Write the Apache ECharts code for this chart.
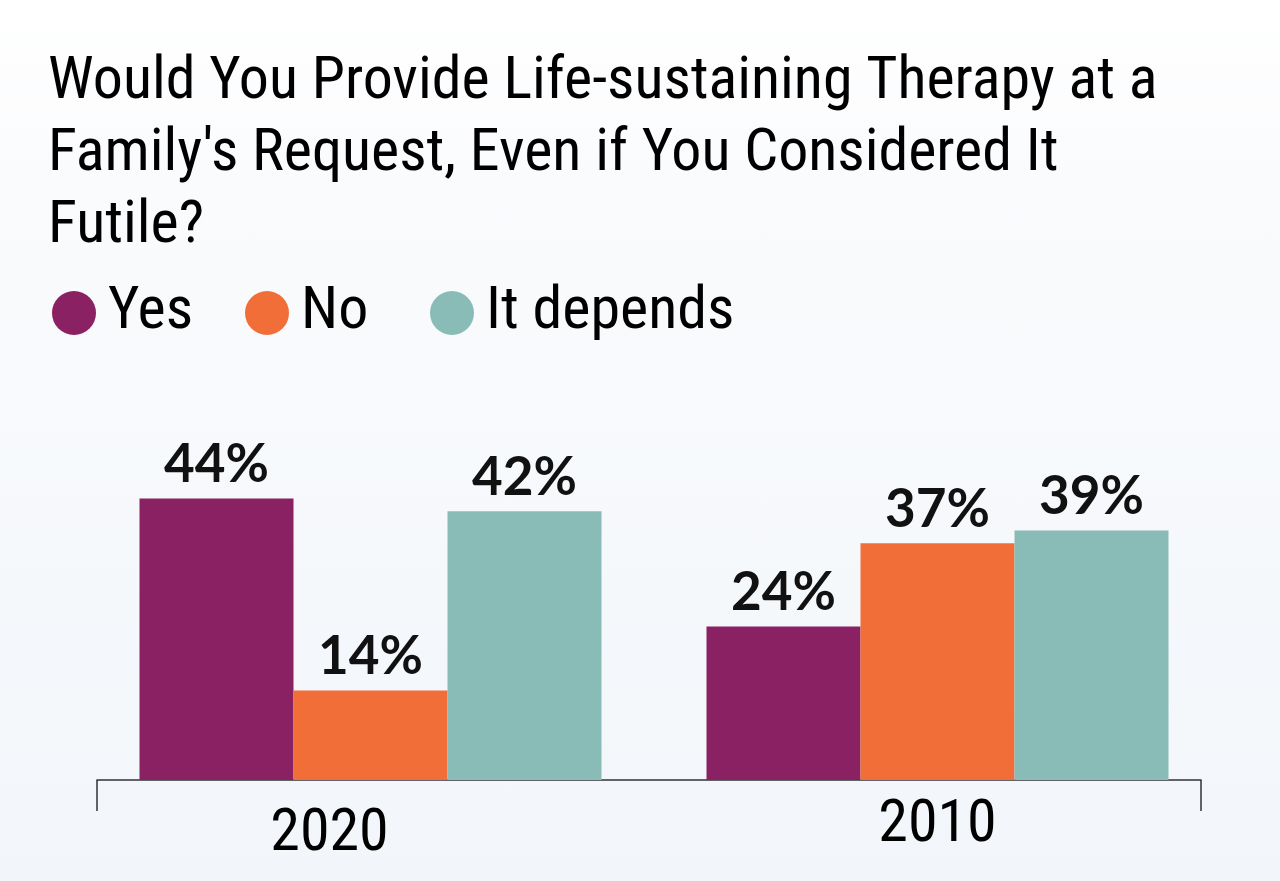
<!DOCTYPE html>
<html>
<head>
<meta charset="utf-8">
<script src="https://cdn.jsdelivr.net/npm/echarts@6/dist/echarts.min.js"></script>
<style>
html, body { margin: 0; padding: 0; }
body { background: linear-gradient(to bottom, #ffffff 0%, #fafbfd 20%, #f2f6fa 100%); }
#display { width: 1280px; height: 881px; }
</style>
</head>
<body>
<div id="display"></div>
<script>
var categories = ['2020', '2010'];
var seriesNames = ['Yes', 'No', 'It depends'];
var yesValues = [44, 24];
var noValues = [14, 37];
var dependsValues = [42, 39];
var colors = ['#8a2163', '#f26e39', '#89bcb7'];

var condensed = "'Roboto Condensed', 'Liberation Sans Narrow', 'DejaVu Sans Condensed', Roboto, sans-serif";

function makeBar(name, values, color) {
    return {
        name: name,
        type: 'bar',
        xAxisIndex: 0,
        yAxisIndex: 0,
        data: values,
        barWidth: 154,
        barGap: '0%',
        itemStyle: {color: color},
        label: {
            show: true,
            position: 'top',
            distance: 7,
            formatter: '{c}%',
            fontFamily: 'Lato',
            fontWeight: 'bold',
            fontSize: 53,
            color: '#111'
        }
    };
}

// one legend per item, so each can sit where it does in the picture
function makeLegend(name, left) {
    return {
        left: left,
        top: 283,
        padding: 0,
        icon: 'circle',
        itemWidth: 44,
        itemHeight: 44,
        data: [name],
        textStyle: {
            fontFamily: condensed,
            fontSize: 60,
            color: '#000',
            padding: [0, 0, 0, 7]
        }
    };
}

var option = {
    animation: false,
    title: {
        text: "Would You Provide Life-sustaining Therapy at a\nFamily's Request, Even if You Considered It\nFutile?",
        left: 43,
        top: 42,
        textStyle: {
            fontFamily: condensed,
            fontWeight: 'normal',
            fontSize: 60,
            lineHeight: 72,
            color: '#000'
        }
    },
    legend: [
        makeLegend(seriesNames[0], 52),
        makeLegend(seriesNames[1], 245),
        makeLegend(seriesNames[2], 430)
    ],
    grid: [
        {left: 87, width: 1134, top: 140, height: 640},
        {left: 97, width: 1104, top: 140, height: 640}
    ],
    xAxis: [
        {
            type: 'category',
            gridIndex: 0,
            data: categories,
            axisLine: {show: false},
            axisTick: {show: false},
            axisLabel: {
                margin: 16,
                formatter: function (v, i) {
                    return i === 0 ? '{a|' + v + '}' : '{b|' + v + '}';
                },
                rich: {
                    a: {fontFamily: condensed, fontSize: 60, color: '#000', padding: [9, 82, 0, 0]},
                    b: {fontFamily: condensed, fontSize: 60, color: '#000'}
                }
            }
        },
        {
            type: 'value',
            gridIndex: 1,
            min: 0,
            max: 1,
            interval: 1,
            axisLine: {show: true, lineStyle: {color: '#333', width: 1.5}},
            axisTick: {show: true, length: 31, lineStyle: {color: '#333', width: 1.5}},
            axisLabel: {show: false},
            splitLine: {show: false}
        }
    ],
    yAxis: [
        {type: 'value', gridIndex: 0, min: 0, max: 100, show: false, splitLine: {show: false}},
        {type: 'value', gridIndex: 1, min: 0, max: 100, show: false, splitLine: {show: false}}
    ],
    series: [
        makeBar(seriesNames[0], yesValues, colors[0]),
        makeBar(seriesNames[1], noValues, colors[1]),
        makeBar(seriesNames[2], dependsValues, colors[2])
    ]
};

var myChart = echarts.init(document.getElementById('display'));
myChart.setOption(option);
</script>
</body>
</html>
